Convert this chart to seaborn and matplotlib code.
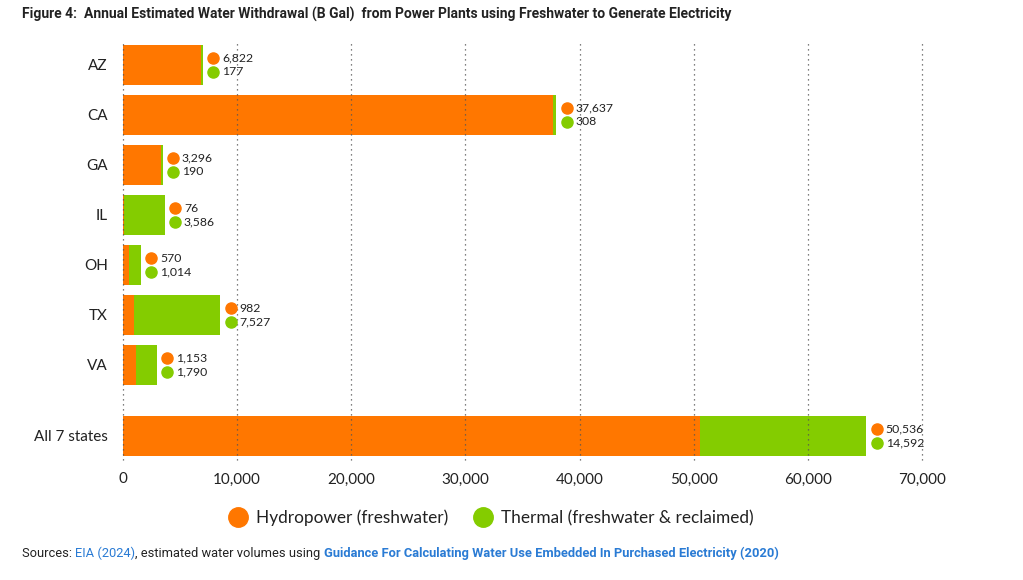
import pandas as pd
import numpy as np
import matplotlib.pyplot as plt
import matplotlib.transforms as mtrans
from matplotlib.lines import Line2D
import seaborn as sns

# Datos (B Gal)
estados = ["AZ", "CA", "GA", "IL", "OH", "TX", "VA", "All 7 states"]
hidro = [6822, 37637, 3296, 76, 570, 982, 1153, 50536]
termica = [177, 308, 190, 3586, 1014, 7527, 1790, 14592]
posiciones = [0, 1, 2, 3, 4, 5, 6, 7.42]
ticks_x = [0, 10000, 20000, 30000, 40000, 50000, 60000, 70000]

naranja = "#FF7700"
verde = "#84CC00"
texto = "#222222"
azul = "#2A7BD4"

df = pd.DataFrame({"estado": estados, "hidro": hidro, "termica": termica, "pos": posiciones})
df["total"] = df["hidro"] + df["termica"]

sns.set_theme(style="white")
plt.rcParams["font.family"] = ["Lato", "DejaVu Sans"]

fig = plt.figure(figsize=(10.23, 5.80), dpi=100)
ax = fig.add_axes([0.1202, 0.2069, 0.9013 - 0.1202, 0.9276 - 0.2069])

sns.barplot(data=df, x="total", y="pos", orient="y", native_scale=True,
            color=verde, saturation=1, width=0.8, linewidth=0, ax=ax, zorder=2)
sns.barplot(data=df, x="hidro", y="pos", orient="y", native_scale=True,
            color=naranja, saturation=1, width=0.8, linewidth=0, ax=ax, zorder=3)

ax.set_xlim(0, 70000)
ax.set_ylim(7.9, -0.46)
ax.set_xticks(ticks_x)
ax.set_xticklabels([f"{t:,}" for t in ticks_x], fontsize=11, color=texto)
ax.set_yticks(posiciones)
ax.set_yticklabels(estados, fontsize=11, color=texto)
ax.tick_params(axis="x", length=0, pad=9)
ax.tick_params(axis="y", length=0, pad=11)
ax.set_xlabel("")
ax.set_ylabel("")
for s in ax.spines.values():
    s.set_visible(False)

# lineas de cuadricula punteadas encima de las barras
for t in ticks_x:
    ax.axvline(t, color="#555555", linestyle=(0, (1, 3)), linewidth=0.9, zorder=5, clip_on=False)

# etiquetas con circulos
off_sup_m = mtrans.offset_copy(ax.transData, fig=fig, x=7.5, y=5, units="points")
off_inf_m = mtrans.offset_copy(ax.transData, fig=fig, x=7.5, y=-5, units="points")
off_sup_t = mtrans.offset_copy(ax.transData, fig=fig, x=13.8, y=5, units="points")
off_inf_t = mtrans.offset_copy(ax.transData, fig=fig, x=13.8, y=-5, units="points")
for _, r in df.iterrows():
    ax.plot(r["total"], r["pos"], "o", color=naranja, ms=8, transform=off_sup_m, clip_on=False, zorder=6)
    ax.plot(r["total"], r["pos"], "o", color=verde, ms=8, transform=off_inf_m, clip_on=False, zorder=6)
    ax.text(r["total"], r["pos"], f"{r['hidro']:,}", transform=off_sup_t, va="center",
            ha="left", fontsize=8.8, color=texto)
    ax.text(r["total"], r["pos"], f"{r['termica']:,}", transform=off_inf_t, va="center",
            ha="left", fontsize=8.8, color=texto)

# leyenda
manijas = [Line2D([], [], marker="o", linestyle="", color=naranja, markersize=14),
           Line2D([], [], marker="o", linestyle="", color=verde, markersize=14)]
fig.legend(manijas, ["Hydropower (freshwater)", "Thermal (freshwater & reclaimed)"],
           loc="center", bbox_to_anchor=(0.476, 0.107), ncol=2, frameon=False,
           fontsize=12.4, handletextpad=0.05, columnspacing=1.0, labelcolor=texto)

# titulo
fig.text(0.0215, 0.975, "Figure 4:  Annual Estimated Water Withdrawal (B Gal)  from Power Plants using Freshwater to Generate Electricity",
         fontsize=10, fontweight="bold", color=texto, va="center", ha="left",
         family=["Roboto", "DejaVu Sans"])

# fuentes
fam = ["Roboto", "DejaVu Sans"]
tam = 9.3
t1 = fig.text(0.0215, 0.046, "Sources: ", fontsize=tam, color=texto, va="center", family=fam)
t2 = fig.text(0, 0, "EIA (2024)", fontsize=tam, color=azul, va="center", family=fam)
t3 = fig.text(0, 0, ", estimated water volumes using ", fontsize=tam, color=texto, va="center", family=fam)
t4 = fig.text(0, 0, "Guidance For Calculating Water Use Embedded In Purchased Electricity (2020)",
              fontsize=tam, color=azul, va="center", fontweight="bold", family=fam)
fig.canvas.draw()
r = fig.canvas.get_renderer()
prev = t1
for t in (t2, t3, t4):
    bb = prev.get_window_extent(renderer=r)
    x = fig.transFigure.inverted().transform((bb.x1, 0))[0]
    t.set_position((x, 0.046))
    fig.canvas.draw()
    prev = t

fig.savefig("out.png", dpi=100)
